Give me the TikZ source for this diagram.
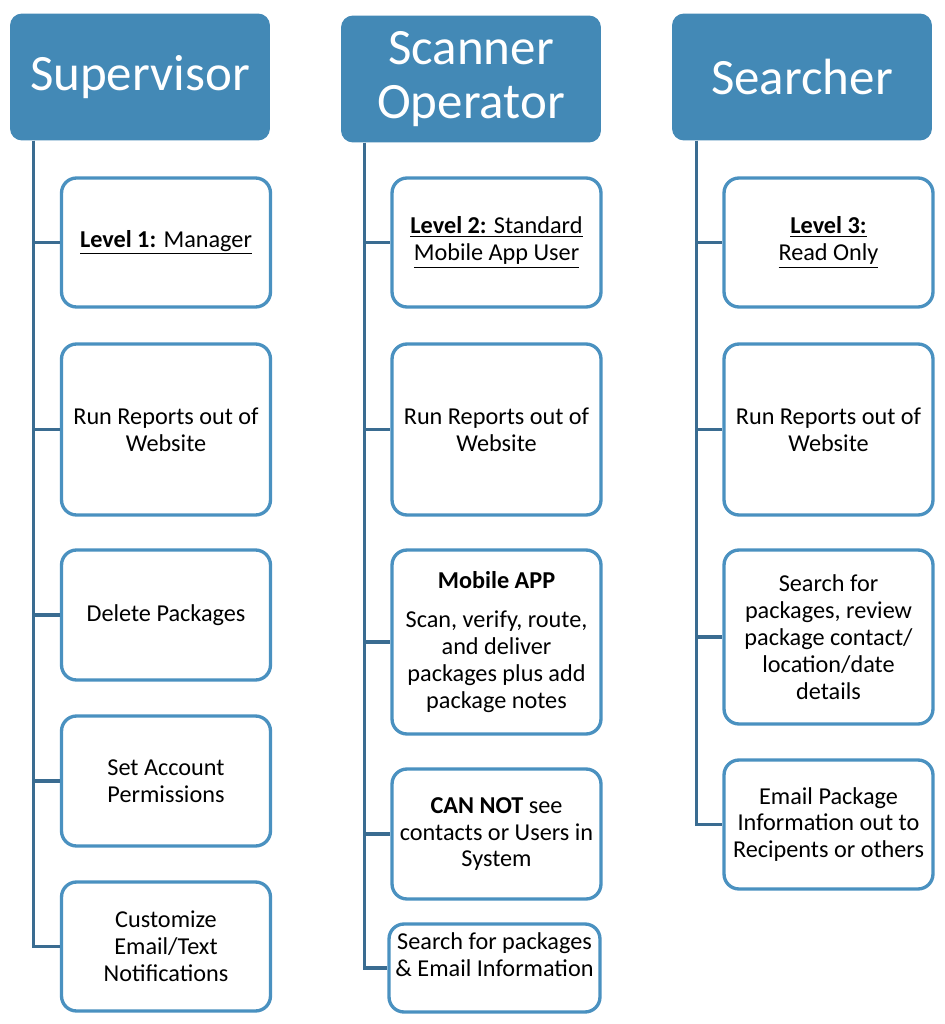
\documentclass[tikz,border=0pt]{standalone}
\usepackage{fontspec}
\setmainfont{Carlito}
\definecolor{headblue}{RGB}{67,137,182}
\definecolor{boxblue}{RGB}{74,145,192}
\definecolor{linkblue}{RGB}{58,108,145}
\tikzset{
  head/.style={fill=headblue, text=white, rounded corners=0.24cm, minimum width=5.2cm,
    minimum height=2.54cm, align=center, font=\fontsize{29}{30.5}\selectfont},
  item/.style={draw=boxblue, line width=1.9pt, fill=white, rounded corners=0.3cm,
    minimum width=4.18cm, align=center, inner sep=1pt, font=\fontsize{13.8}{15.3}\selectfont},
  link/.style={draw=linkblue, line width=1.8pt}
}
\begin{document}
\begin{tikzpicture}[x=0.02cm,y=-0.02cm]
\useasboundingbox (0,0) rectangle (945,1024);

% supervisor
\node[head] (sup) at (140,77) {Supervisor};
\node[item, minimum height=2.58cm] (sup1) at (166,242.5) {\underline{\textbf{Level 1:} Manager}};
\node[item, minimum height=3.42cm] (sup2) at (166,429.5) {Run Reports out of\\Website};
\node[item, minimum height=2.6cm] (sup3) at (166,615) {Delete Packages};
\node[item, minimum height=2.6cm] (sup4) at (166,781) {Set Account\\Permissions};
\node[item, minimum height=2.58cm] (sup5) at (166,946.5) {Customize\\Email/Text\\Notifications};

% scanner operator
\node[head] (scan) at (471,79) {Scanner\\Operator};
\node[item, minimum height=2.58cm] (scan1) at (496.5,242.5) {\underline{\textbf{Level 2:} Standard}\\\underline{Mobile App User}};
\node[item, minimum height=3.42cm] (scan2) at (496.5,429.5) {Run Reports out of\\Website};
\node[item, minimum height=3.68cm] (scan3) at (496.5,642) {\textbf{Mobile APP}\\[0.24cm]Scan, verify, route,\\and deliver\\packages plus add\\package notes};
\node[item, minimum height=2.6cm] (scan4) at (496.5,834) {\textbf{CAN NOT} see\\contacts or Users in\\System};
\node[item, minimum height=1.76cm, minimum width=4.22cm] (scan5) at (494.5,968) {Search for packages\\\& Email Information\\\mbox{}};

% searcher
\node[head] (srch) at (802,77) {Searcher};
\node[item, minimum height=2.58cm] (srch1) at (828.5,242.5) {\underline{\textbf{Level 3:}}\\\underline{Read Only}};
\node[item, minimum height=3.42cm] (srch2) at (828.5,429.5) {Run Reports out of\\Website};
\node[item, minimum height=3.48cm] (srch3) at (828.5,637) {Search for\\packages, review\\package contact/\\location/date\\details};
\node[item, minimum height=2.58cm] (srch4) at (828.5,824.5) {Email Package\\Information out to\\Recipents or others};

% connectors
\foreach \n in {sup1,sup2,sup3,sup4,sup5}
  \draw[link] ([xshift=0.48cm]sup.south west) |- (\n.west);
\foreach \n in {scan1,scan2,scan3,scan4,scan5}
  \draw[link] ([xshift=0.48cm]scan.south west) |- (\n.west);
\foreach \n in {srch1,srch2,srch3,srch4}
  \draw[link] ([xshift=0.5cm]srch.south west) |- (\n.west);
\end{tikzpicture}
\end{document}
